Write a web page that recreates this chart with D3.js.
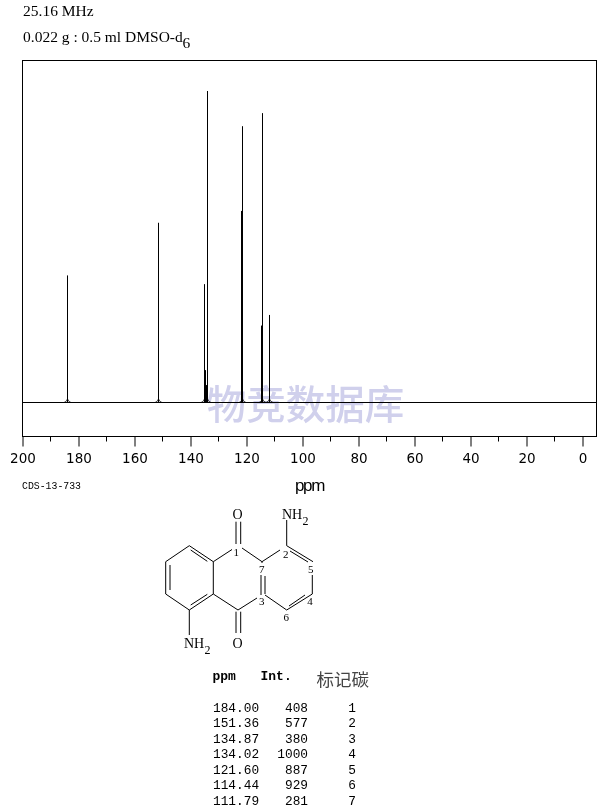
<!DOCTYPE html>
<html><head><meta charset="utf-8">
<script src="https://cdn.jsdelivr.net/npm/d3@7/dist/d3.min.js"></script>
<style>html,body{margin:0;padding:0;background:#fff}svg{display:block}</style>
</head><body><div id="c"></div>
<script>
const ppm = [184.00,151.36,134.87,134.02,121.60,114.44,111.79];
const intensity = [408,577,380,1000,887,929,281];
const carbon = [1,2,3,4,5,6,7];
const shoulderPpm = [134.5,134.3,121.75,114.62];
const shoulderInt = [104,56,615,247];
const majorTicks = [200,180,160,140,120,100,80,60,40,20,0];
const minorTicks = [190,170,150,130,110,90,70,50,30,10];
const width=609,height=808;
const x=d3.scaleLinear().domain([200,0]).range([22.5,582.5]);
const y=d3.scaleLinear().domain([0,1000]).range([402.5,91]);
const px=v=>Math.floor(x(v))+.5;
const svg=d3.select('#c').append('svg').attr('width',width).attr('height',height);
const serif='"Liberation Serif","Times New Roman",serif', sans='"Liberation Sans",Arial,sans-serif', mono='"Liberation Mono",monospace', cjk='"Noto Sans CJK SC"';
const txt=(s,tx,ty,size,fam,extra={})=>{const t=svg.append('text').attr('x',tx).attr('y',ty).attr('font-size',size).attr('font-family',fam).attr('fill',extra.fill||'#000').text(s);
 if(extra.anchor)t.attr('text-anchor',extra.anchor); if(extra.weight)t.attr('font-weight',extra.weight); if(extra.len)t.attr('textLength',extra.len).attr('lengthAdjust','spacingAndGlyphs'); return t;};
// header
txt('25.16 MHz',23,16,15.5,serif);
txt('0.022 g : 0.5 ml DMSO-d',23,42,15.5,serif);
txt('6',182.5,48,15.5,serif);
// frame
svg.append('rect').attr('x',22.5).attr('y',60.5).attr('width',574).attr('height',376).attr('fill','none').attr('stroke','#000');
// baseline
svg.append('line').attr('x1',22.5).attr('x2',596.5).attr('y1',402.5).attr('y2',402.5).attr('stroke','#000');
// peak feet
svg.append('g').selectAll('path').data(ppm).join('path')
 .attr('d',d=>{const c=px(d);return d3.line().curve(d3.curveMonotoneX)([[c-4,402.5],[c-1.5,401.5],[c,399],[c+1.5,401.5],[c+4,402.5]]);})
 .attr('fill','none').attr('stroke','#000').attr('stroke-width',0.8);
// peaks
svg.append('g').selectAll('line').data(ppm).join('line')
 .attr('x1',d=>px(d)).attr('x2',d=>px(d))
 .attr('y1',y(0)).attr('y2',(d,i)=>y(intensity[i])).attr('stroke','#000');
svg.append('g').selectAll('line').data(shoulderPpm).join('line')
 .attr('x1',d=>px(d)).attr('x2',d=>px(d))
 .attr('y1',y(0)).attr('y2',(d,i)=>y(shoulderInt[i])).attr('stroke','#000');
// axis
const axis=svg.append('g').attr('transform','translate(0,436.5)').call(d3.axisBottom(x).tickValues(majorTicks).tickSize(10).tickFormat(d3.format('d')));
axis.select('.domain').remove();
axis.selectAll('.tick line').attr('stroke','#000');
axis.selectAll('.tick text').attr('font-family','"DejaVu Sans"').attr('font-size',13.5).attr('fill','#000').attr('dy',0).attr('y',26);
svg.append('g').selectAll('line').data(minorTicks).join('line')
 .attr('x1',d=>x(d)).attr('x2',d=>x(d)).attr('y1',436.5).attr('y2',441.5).attr('stroke','#000');
txt('ppm',309.5,491,17,sans,{anchor:'middle'}).attr('letter-spacing',-1.3);
txt('CDS-13-733',22,489,10.5,mono,{len:59});
// watermark
txt('物竞数据库',305.5,419,39.5,cjk,{fill:'#d0d0ec',anchor:'middle',weight:500}).style('mix-blend-mode','multiply');
// molecule
const seg=[
 [189.3,545.7,213.3,561.7],[165.7,561.7,189.3,545.7],[190.7,550,207.3,561.3],
 [165.7,561.7,165.7,594],[170,565,170,590],[165.7,594,189.3,610],[189.3,610,213.3,594],[190.7,605,207.3,594.3],
 [213.3,561.7,213.3,594],[213.3,561.7,232,549.5],[242,548,262,561.7],
 [213.3,594,238,610],[238,610,257,598],
 [262,561.7,262,563],[261,575,261,595],[265,576,265,594],
 [262,561.7,280,550],[286.7,545.7,313,561.7],[290,551,308,562],
 [312.3,575,312.3,594],[312.3,594,286.7,610],[305,595,289,606],[286.7,610,265,595],
 [286.7,520,286.7,545.7],[189.3,610,189.3,635],
 [236,521.7,236,544],[240.7,521.7,240.7,544],[236,611.7,236,633],[240.7,611.7,240.7,633]];
svg.append('g').selectAll('line').data(seg).join('line').attr('x1',d=>d[0]).attr('y1',d=>d[1]).attr('x2',d=>d[2]).attr('y2',d=>d[3]).attr('stroke','#000');
txt('O',237.5,519,14,serif,{anchor:'middle'}); txt('O',237.5,647.5,14,serif,{anchor:'middle'});
txt('NH',282,518.5,14,serif); txt('2',302.5,524.5,12,serif);
txt('NH',184,648,14,serif); txt('2',204.5,654,12,serif);
[['1',236.3,556.3],['2',285.7,558],['7',261.7,573],['5',310.7,573],['3',261.7,605.4],['4',310,605.4],['6',286.3,621.4]].forEach(a=>txt(a[0],a[1],a[2],11,serif,{anchor:'middle'}));
// table
txt('ppm',212.5,680,13,mono,{weight:'bold'});
txt('Int.',260.5,680,13,mono,{weight:'bold'});
txt('标记碳',316.5,686,17.5,cjk,{fill:'#444'});
const rowY=d3.scalePoint().domain(ppm).range([711.5,804.5]);
ppm.forEach((p,i)=>{const yy=rowY(p);
 txt(p.toFixed(2),213,yy,12.8,mono);
 txt(intensity[i],308,yy,12.8,mono,{anchor:'end'});
 txt(carbon[i],356,yy,12.8,mono,{anchor:'end'});
});
</script></body></html>
